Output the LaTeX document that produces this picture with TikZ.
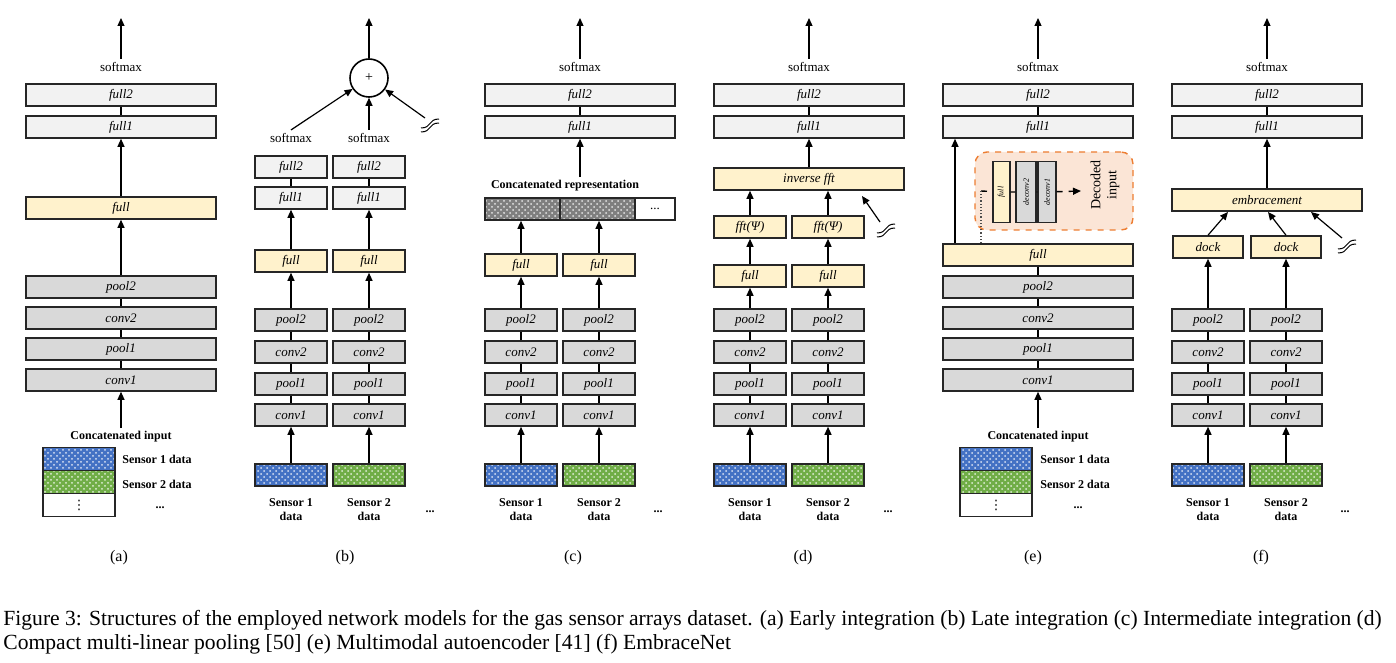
\documentclass[tikz,border=0pt]{standalone}
\usepackage{fontspec}
\setmainfont{Liberation Serif}
\newfontfamily\symfont{DejaVu Sans}
\usetikzlibrary{arrows.meta,patterns}
\definecolor{gfill}{HTML}{D9D9D9}
\definecolor{lfill}{HTML}{F2F2F2}
\definecolor{yfill}{HTML}{FFF2CC}
\definecolor{bfill}{HTML}{4472C4}
\definecolor{grfill}{HTML}{70AD47}
\definecolor{dfill}{HTML}{7F7F7F}
\definecolor{ofill}{HTML}{FBE5D6}
\definecolor{oline}{HTML}{ED7D31}
\tikzset{
  box/.style={draw=black!85,line width=0.8pt,minimum height=11pt,inner sep=0pt,
    font=\fontsize{6.5}{7.5}\selectfont\itshape},
  gbox/.style={box,fill=gfill},
  lbox/.style={box,fill=lfill},
  ybox/.style={box,fill=yfill},
  dotted fill/.style={box,preaction={fill=#1},pattern=crosshatch dots,pattern color=white!80!#1},
  arr/.style={line width=0.6pt,-{Triangle[length=4pt,width=3.5pt]}},
  con/.style={line width=0.6pt},
  lbl/.style={font=\fontsize{6.5}{7.5}\selectfont,inner sep=0pt},
  blbl/.style={font=\fontsize{6}{7}\selectfont\bfseries,inner sep=0pt,align=center},
  captxt/.style={font=\fontsize{8}{9}\selectfont,inner sep=0pt},
  figcap/.style={font=\fontsize{10.8}{12}\selectfont,inner sep=0pt},
  pics/sq/.style={code={
    \draw[line width=0.5pt] (-9,6) .. controls (2,6) and (-2,-3) .. (9,-3);
    \draw[line width=0.5pt] (-9,10) .. controls (2,10) and (-2,1) .. (9,1);}}
}
% one column: prefix, centre x, input colour, sensor number
\newcommand\stackcol[4]{%
  \node[gbox,minimum width=36pt] (#1p2) at (#2,320) {pool2};
  \node[gbox,minimum width=36pt] (#1c2) at (#2,352) {conv2};
  \node[gbox,minimum width=36pt] (#1p1) at (#2,384) {pool1};
  \node[gbox,minimum width=36pt] (#1c1) at (#2,415) {conv1};
  \draw[con] (#1p2)--(#1c2) (#1c2)--(#1p1) (#1p1)--(#1c1);
  \node[dotted fill=#3,minimum width=36pt] (#1in) at (#2,475) {};
  \draw[arr] (#1in)--(#1c1);
  \node[blbl] (#1lb) at (#2,510) {Sensor #4\\data};}
% wide stack: prefix, centre x
\newcommand\widestack[2]{%
  \node[gbox,minimum width=95pt] (#1p2) at (#2,287) {pool2};
  \node[gbox,minimum width=95pt] (#1c2) at (#2,318) {conv2};
  \node[gbox,minimum width=95pt] (#1p1) at (#2,349) {pool1};
  \node[gbox,minimum width=95pt] (#1c1) at (#2,380) {conv1};
  \draw[con] (#1p2)--(#1c2) (#1c2)--(#1p1) (#1p1)--(#1c1);}
% concatenated input: prefix, stack x, label x
\newcommand\catinput[3]{%
  \node[blbl] (#1ct) at (#2+42,437) {Concatenated input};
  \node[dotted fill=bfill,minimum width=36pt,minimum height=11.5pt] (#1b) at (#2,459) {};
  \node[dotted fill=grfill,minimum width=36pt,minimum height=11.5pt] (#1g) at (#2,482) {};
  \node[box,fill=white,minimum width=36pt,minimum height=11.5pt,font=\fontsize{6.5}{7}\symfont] (#1w) at (#2,505) {⋮};
  \node[blbl,anchor=west] (#1s1) at (#3,459) {Sensor 1 data};
  \node[blbl,anchor=west] (#1s2) at (#3,484) {Sensor 2 data};
  \node[blbl] (#1dd) at (#3+38,508) {...};
  \draw[arr] (#1ct.north -| #1c1) ++(0,-3) coordinate (#1ca) -- (#1c1);}
\begin{document}
\begin{tikzpicture}[x=0.5pt,y=-0.5pt]
\useasboundingbox (0,0) rectangle (1396,663);

%% (a)
\node[lbox,minimum width=95pt] (af2) at (121,95) {full2};
\node[lbox,minimum width=95pt] (af1) at (121,127) {full1};
\node[ybox,minimum width=95pt] (afu) at (121,208) {full};
\widestack{a}{121}
\draw[con] (af2)--(af1);
\draw[arr] (afu)--(af1);
\draw[arr] (ap2)--(afu);
\node[lbl] (asm) at (121,67) {softmax};
\coordinate (atop) at (121,18);
\draw[arr] (asm.north) ++(0,-3) -- (atop);
\catinput{a}{79}{122}
\node[captxt] (acap) at (119,558) {(a)};

%% (b)
\foreach \p/\x/\c/\n in {bl/291/bfill/1,br/369/grfill/2}{
  \stackcol{\p}{\x}{\c}{\n}
  \node[lbox,minimum width=36pt] (\p f2) at (\x,167) {full2};
  \node[lbox,minimum width=36pt] (\p f1) at (\x,198) {full1};
  \node[ybox,minimum width=36pt] (\p fu) at (\x,261) {full};
  \draw[con] (\p f2)--(\p f1);
  \draw[arr] (\p fu)--(\p f1);
  \draw[arr] (\p p2)--(\p fu);
  \node[lbl] (\p sm) at (\x,138) {softmax};
}
\node[blbl] (bdd) at (430,512) {...};
\node[circle,draw,line width=0.8pt,minimum size=19pt,inner sep=0pt,font=\fontsize{7}{8}\selectfont] (bsum) at (369,78) {+};
\coordinate (btop) at (369,18);
\coordinate (bsq) at (425,118);
\pic at (430,122) {sq};
\draw[arr] (bsum)--(btop);
\draw[arr] (blsm.north) ++(0,-3) -- (bsum);
\draw[arr] (brsm.north) ++(0,-3) -- (bsum);
\draw[arr] (bsq)--(bsum);
\node[captxt] (bcap) at (345,558) {(b)};

%% (c)
\node[lbox,minimum width=95pt] (cf2) at (580,95) {full2};
\node[lbox,minimum width=95pt] (cf1) at (580,127) {full1};
\draw[con] (cf2)--(cf1);
\node[blbl] (crl) at (565,186) {Concatenated representation};
\node[dotted fill=dfill,minimum width=37.5pt] (crl1) at (522.5,209) {};
\node[dotted fill=dfill,minimum width=37.5pt] (crl2) at (597.5,209) {};
\node[box,fill=white,minimum width=20pt,font=\fontsize{6.5}{7.5}\selectfont] (crw) at (655,209) {...};
\draw[arr] (crl.north -| cf1) ++(0,-3) -- (cf1);
\foreach \p/\x/\c/\n/\r in {cl/521/bfill/1/crl1,cr/599/grfill/2/crl2}{
  \stackcol{\p}{\x}{\c}{\n}
  \node[ybox,minimum width=36pt] (\p fu) at (\x,265) {full};
  \draw[arr] (\p p2)--(\p fu);
  \draw[arr] (\p fu)--(\p fu |- \r.south);
}
\node[blbl] (cdd) at (658,512) {...};
\node[lbl] (csm) at (580,67) {softmax};
\coordinate (ctop) at (580,18);
\draw[arr] (csm.north) ++(0,-3) -- (ctop);
\node[captxt] (ccap) at (573,558) {(c)};

%% (d)
\node[lbox,minimum width=95pt] (df2) at (809,95) {full2};
\node[lbox,minimum width=95pt] (df1) at (809,127) {full1};
\draw[con] (df2)--(df1);
\node[ybox,minimum width=95pt] (dinv) at (809,179) {inverse fft};
\draw[arr] (dinv)--(df1);
\foreach \p/\x/\c/\n in {dl/750/bfill/1,dr/828/grfill/2}{
  \stackcol{\p}{\x}{\c}{\n}
  \node[ybox,minimum width=36pt] (\p ft) at (\x,227) {fft(Ψ)};
  \node[ybox,minimum width=36pt] (\p fu) at (\x,276) {full};
  \draw[arr] (\p p2)--(\p fu);
  \draw[arr] (\p fu)--(\p ft);
  \draw[arr] (\p ft)--(\p ft |- dinv.south);
}
\node[blbl] (ddd) at (888,512) {...};
\coordinate (dsq) at (880,222);
\pic at (886,227) {sq};
\draw[arr] (dsq)--(862,196);
\node[lbl] (dsm) at (809,67) {softmax};
\coordinate (dtop) at (809,18);
\draw[arr] (dsm.north) ++(0,-3) -- (dtop);
\node[captxt] (dcap) at (803,558) {(d)};

%% (e)
\node[lbox,minimum width=95pt] (ef2) at (1038,95) {full2};
\node[lbox,minimum width=95pt] (ef1) at (1038,127) {full1};
\draw[con] (ef2)--(ef1);
\node[ybox,minimum width=95pt] (efu) at (1038,255) {full};
\widestack{e}{1038}
\draw[con] (efu)--(ep2);
\draw[arr] (efu.north -| 955,0) -- (ef1.south -| 955,0);
\node[draw=oline,fill=ofill,dashed,line width=0.7pt,rounded corners=6pt,minimum width=79pt,minimum height=39pt] (edec) at (1054,191) {};
\node[ybox,minimum width=8.5pt,minimum height=30.5pt,line width=0.6pt] (edf) at (1001.5,192) {\rotatebox{90}{\fontsize{4}{5}\selectfont full}};
\node[gbox,minimum width=10pt,minimum height=30.5pt,line width=0.6pt] (ed2) at (1026,192) {\rotatebox{90}{\fontsize{4}{5}\selectfont deconv2}};
\node[gbox,minimum width=9pt,minimum height=30.5pt,line width=0.6pt] (ed1) at (1047,192) {\rotatebox{90}{\fontsize{4}{5}\selectfont deconv1}};
\coordinate (eds) at (981,191);
\coordinate (ede) at (1081,191);
\draw[dashed,line width=0.7pt] (eds)--(edf) (edf)--(ed2) (ed2)--(ed1);
\draw[dashed,line width=0.7pt,-{Triangle[length=4pt,width=3.5pt]}] (ed1)--(ede);
\draw[densely dotted,line width=0.6pt,black!70] (efu.north -| eds)--(eds);
\node[font=\fontsize{7}{8}\selectfont,align=center,rotate=90,inner sep=0pt] (edi) at (1105,185) {Decoded\\input};
\catinput{e}{996}{1040}
\node[lbl] (esm) at (1038,67) {softmax};
\coordinate (etop) at (1038,18);
\draw[arr] (esm.north) ++(0,-3) -- (etop);
\node[captxt] (ecap) at (1033,558) {(e)};

%% (f)
\node[lbox,minimum width=95pt] (ff2) at (1267,95) {full2};
\node[lbox,minimum width=95pt] (ff1) at (1267,127) {full1};
\draw[con] (ff2)--(ff1);
\node[ybox,minimum width=95pt] (fem) at (1267,200) {embracement};
\draw[arr] (fem)--(ff1);
\foreach \p/\x/\c/\n in {fl/1208/bfill/1,fr/1286/grfill/2}{
  \stackcol{\p}{\x}{\c}{\n}
  \node[ybox,minimum width=35pt] (\p dk) at (\x,247) {dock};
  \draw[arr] (\p p2)--(\p dk);
}
\draw[arr] (fldk.north) -- (1228,212);
\draw[arr] (frdk.north) -- (1268,212);
\coordinate (fsq) at (1342,238);
\pic at (1347,243) {sq};
\draw[arr] (fsq)--(1311,212);
\node[blbl] (fdd) at (1345,512) {...};
\node[lbl] (fsm) at (1267,67) {softmax};
\coordinate (ftop) at (1267,18);
\draw[arr] (fsm.north) ++(0,-3) -- (ftop);
\node[captxt] (fcap) at (1261,558) {(f)};

%% caption
\node[figcap,anchor=west] (cap1) at (3,620) {Figure 3: Structures of the employed network models for the gas sensor arrays dataset. (a) Early integration (b) Late integration (c) Intermediate integration (d)};
\node[figcap,anchor=west] (cap2) at (3,644) {Compact multi-linear pooling [50] (e) Multimodal autoencoder [41] (f) EmbraceNet};
\end{tikzpicture}
\end{document}
